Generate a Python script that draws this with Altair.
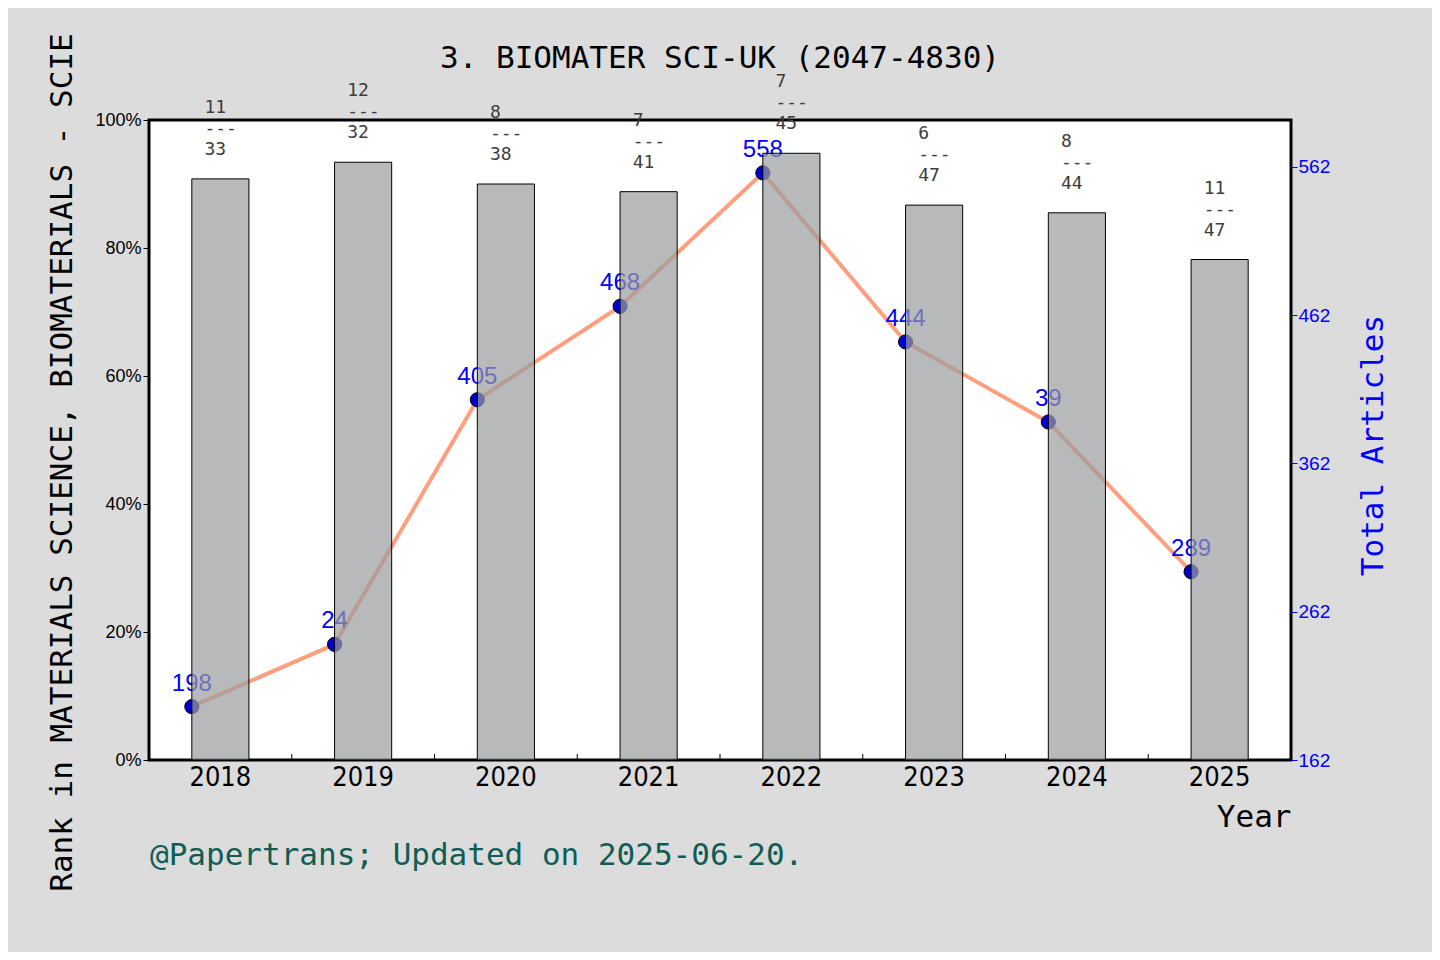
import altair as alt
import pandas as pd

# ---- data ----
years = ["2018", "2019", "2020", "2021", "2022", "2023", "2024", "2025"]
rank_pct = [0.908, 0.934, 0.900, 0.888, 0.948, 0.867, 0.855, 0.782]
ranks = [11, 12, 8, 7, 7, 6, 8, 11]
totals = [33, 32, 38, 41, 45, 47, 44, 47]
articles = [198, 240, 405, 468, 558, 444, 390, 289]
article_labels = ["198", "24", "405", "468", "558", "444", "39", "289"]
left_ticks = [0, 0.2, 0.4, 0.6, 0.8, 1.0]
right_ticks = [162, 262, 362, 462, 562]

title_text = "3. BIOMATER SCI-UK (2047-4830)"
y_title = "Rank in MATERIALS SCIENCE, BIOMATERIALS - SCIE"
y2_title = "Total Articles"
x_title = "Year"
footer_text = "@Papertrans; Updated on 2025-06-20."

df = pd.DataFrame({
    "year": years,
    "pct": rank_pct,
    "frac": [f"{r}\n---\n{t}" for r, t in zip(ranks, totals)],
    "articles": articles,
    "alabel": article_labels,
})
bounds_df = pd.DataFrame({"year": years[1:]})
footer_df = pd.DataFrame({"t": [footer_text]})

W, H = 1142, 640
MONO = "DejaVu Sans Mono"
SANS = "Liberation Sans"
NARROW = "'Liberation Sans Narrow', 'DejaVu Sans Condensed', 'Liberation Sans'"

xscale = alt.Scale(type="band", domain=years, paddingInner=0, paddingOuter=0)
xaxis = alt.Axis(
    title=x_title, titleFont=MONO, titleFontSize=31, titleFontWeight="normal",
    titleColor="black", titleAlign="right", titleBaseline="middle",
    titleX=W, titleY=57, labelFont=NARROW, labelFontSize=27, labelColor="black",
    labelAngle=0, labelPadding=4, ticks=False, domain=False,
)


def xenc(bp=0.5):
    return alt.X("year:N", scale=xscale, axis=xaxis, bandPosition=bp)


# ---- article line group (right axis) ----
yart_scale = alt.Scale(domain=[162, 593.7], nice=False, zero=False)
yart_axis = alt.Axis(
    orient="right", values=right_ticks, format="d", title=y2_title,
    titleFont=MONO, titleFontSize=31, titleFontWeight="normal", titleColor="blue",
    titleAngle=270, titleAlign="center", titleBaseline="middle",
    titleX=82, titleY=325, labelFont=SANS, labelFontSize=19, labelColor="blue",
    tickColor="blue", tickSize=6, tickWidth=1, labelPadding=1, domain=False, grid=False,
)
yart = alt.Y("articles:Q", scale=yart_scale, axis=yart_axis)

line = alt.Chart(df).mark_line(color="#ff9f7f", strokeWidth=4).encode(
    x=xenc(0.3), y=yart
)
points = alt.Chart(df).mark_point(
    filled=True, shape="circle", size=200, color="#0000cc", stroke="black",
    strokeWidth=1, opacity=1
).encode(x=xenc(0.3), y=yart)
alabels = alt.Chart(df).mark_text(
    font=SANS, fontSize=24, color="blue", align="center", baseline="alphabetic", dy=-16
).encode(x=xenc(0.3), y=yart, text="alabel:N")

line_group = alt.layer(line, points, alabels)

# ---- bar group (left axis) ----
ypct_scale = alt.Scale(domain=[0, 1], nice=False)
ypct_axis = alt.Axis(
    orient="left", values=left_ticks, format=".0%", title=y_title,
    titleFont=MONO, titleFontSize=31, titleFontWeight="normal", titleColor="black",
    titleAngle=270, titleAlign="center", titleBaseline="middle",
    titleX=-87, titleY=342, labelFont=SANS, labelFontSize=18, labelColor="black",
    tickColor="black", tickSize=6, tickWidth=1, labelPadding=2, domain=False, grid=False,
)
ypct = alt.Y("pct:Q", scale=ypct_scale, axis=ypct_axis)

bars = alt.Chart(df).mark_bar(
    width=alt.RelativeBandSize(0.4), color="#9b9c9e", fillOpacity=0.71,
    stroke="black", strokeWidth=1, strokeOpacity=1
).encode(x=xenc(), y=ypct)

frac = alt.Chart(df).mark_text(
    font=MONO, fontSize=18, color="#3c3c3c", align="left", baseline="bottom",
    lineBreak="\n", lineHeight=21, dx=-16, dy=-62
).encode(x=xenc(), y=ypct, text="frac:N")

inner_ticks = alt.Chart(bounds_df).mark_rule(color="black", strokeWidth=1).encode(
    x=xenc(0), y=alt.value(H), y2=alt.value(H - 6)
)

footer = alt.Chart(footer_df).mark_text(
    font=MONO, fontSize=31, color="#0f5c55", align="left", baseline="middle"
).encode(x=alt.value(1), y=alt.value(736), text="t:N")

bar_group = alt.layer(bars, frac, inner_ticks, footer)

chart = alt.layer(line_group, bar_group).resolve_scale(y="independent").properties(
    width=W, height=H,
    title=alt.Title(title_text, font=MONO, fontSize=31, fontWeight="normal",
                    color="black", anchor="middle", offset=0, dy=42),
    autosize=alt.AutoSizeParams(type="none"),
    padding={"left": 141, "top": 112, "right": 141, "bottom": 192},
    background="#dcdcdc",
).configure_view(
    fill="white", stroke="black", strokeWidth=3
)

chart.save("out.html", embed_options={"renderer": "svg", "actions": False})
